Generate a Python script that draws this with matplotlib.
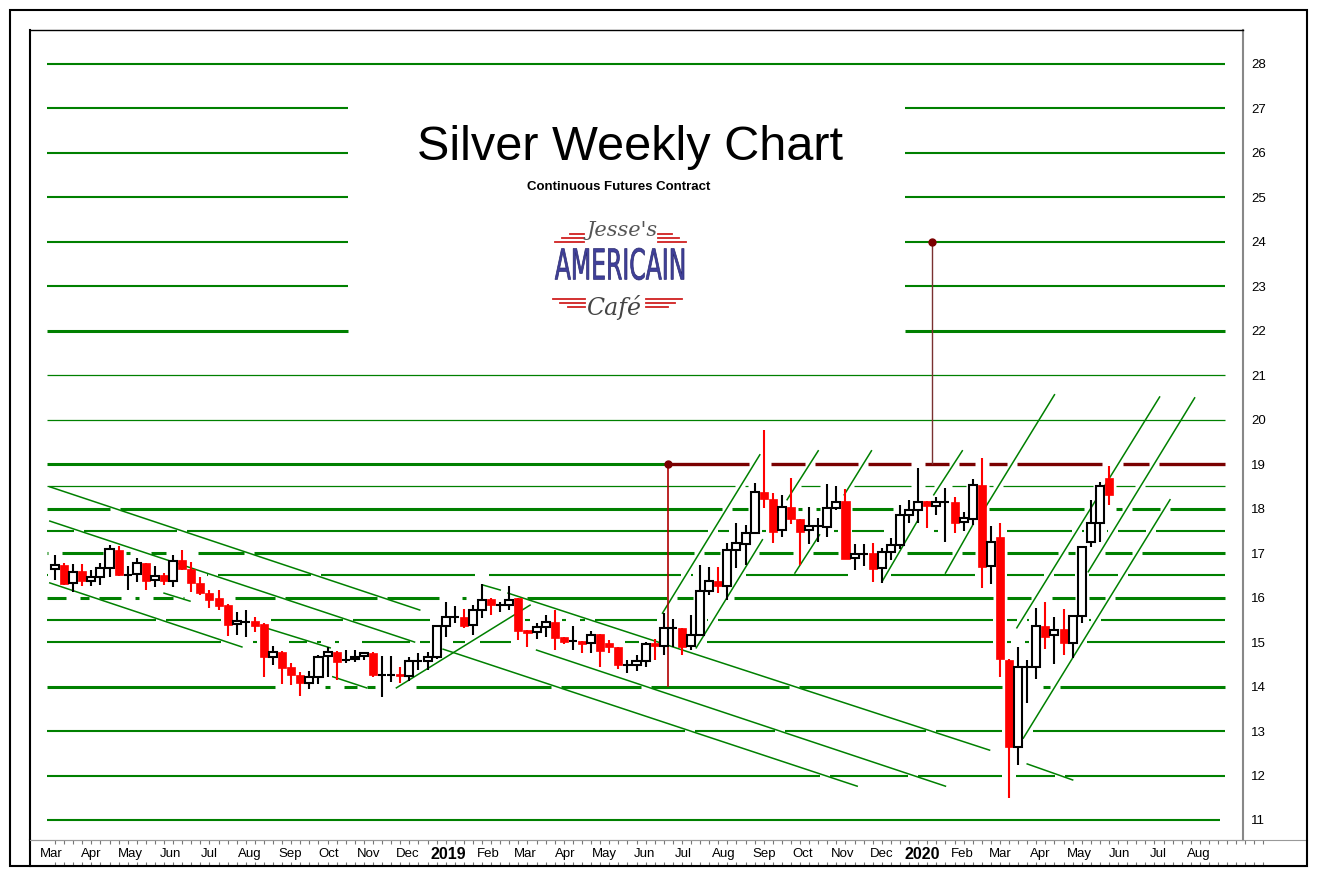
import matplotlib
matplotlib.use('Agg')
import matplotlib.pyplot as plt
import matplotlib.dates as mdates
from matplotlib.patches import Rectangle, PathPatch
from matplotlib.textpath import TextPath
from matplotlib.font_manager import FontProperties
from matplotlib.transforms import Affine2D, IdentityTransform
import pandas as pd

W, H = 1322, 881

# weekly silver candles, first bar is the week of 12 Mar 2018
first_week = '2018-03-12'
opens = [16.64, 16.73, 16.32, 16.60, 16.38, 16.47, 16.66, 17.08, 16.50, 16.53,
         16.77, 16.40, 16.50, 16.38, 16.84, 16.64, 16.32, 16.11, 15.98, 15.83,
         15.41, 15.46, 15.48, 15.40, 14.67, 14.78, 14.45, 14.27, 14.09, 14.22,
         14.68, 14.78, 14.60, 14.61, 14.69, 14.76, 14.26, 14.26, 14.28, 14.24,
         14.57, 14.58, 14.66, 15.35, 15.57, 15.57, 15.39, 15.72, 15.96, 15.83,
         15.83, 15.98, 15.27, 15.23, 15.33, 15.46, 15.12, 15.03, 15.03, 14.97,
         15.17, 14.99, 14.90, 14.49, 14.49, 14.58, 14.97, 14.91, 15.31, 15.31,
         14.91, 15.16, 16.14, 16.38, 16.26, 17.06, 17.21, 17.45, 18.38, 18.21,
         17.51, 18.03, 17.76, 17.51, 17.62, 17.58, 18.01, 18.16, 16.88, 16.98,
         17.00, 16.66, 17.03, 17.18, 17.86, 17.97, 18.16, 18.05, 18.14, 18.14,
         17.69, 17.77, 18.52, 16.70, 17.36, 14.60, 12.65, 14.45, 14.45, 15.37,
         15.16, 15.29, 14.99, 15.59, 17.26, 17.67, 18.68]
highs = [16.96, 16.78, 16.75, 16.75, 16.62, 16.77, 17.18, 17.16, 16.71, 16.90,
         16.78, 16.72, 16.56, 16.96, 17.06, 16.81, 16.47, 16.17, 16.17, 15.85,
         15.68, 15.72, 15.56, 15.42, 14.91, 14.80, 14.54, 14.33, 14.36, 14.71,
         14.90, 14.79, 14.82, 14.82, 14.78, 14.78, 14.69, 14.69, 14.44, 14.67,
         14.75, 14.78, 15.39, 15.91, 15.80, 15.74, 15.83, 16.31, 15.98, 15.90,
         16.26, 16.00, 15.27, 15.42, 15.61, 15.72, 15.12, 15.35, 15.03, 15.24,
         15.17, 15.05, 14.90, 14.60, 14.71, 15.01, 15.08, 15.65, 15.51, 15.31,
         15.61, 16.73, 16.69, 16.68, 17.22, 17.67, 17.63, 18.57, 19.77, 18.35,
         18.30, 18.68, 17.76, 18.03, 17.78, 18.56, 18.51, 18.43, 17.20, 17.20,
         17.22, 17.11, 17.33, 18.08, 18.20, 18.91, 18.16, 18.25, 18.46, 18.27,
         17.93, 18.66, 19.13, 17.60, 17.67, 14.62, 14.88, 14.60, 15.76, 15.89,
         15.57, 15.74, 15.59, 17.13, 18.20, 18.59, 18.96]
lows = [16.40, 16.28, 16.13, 16.25, 16.26, 16.28, 16.47, 16.48, 16.17, 16.34,
        16.17, 16.23, 16.28, 16.23, 16.62, 16.13, 16.05, 15.76, 15.72, 15.14,
        15.16, 15.12, 15.23, 14.22, 14.48, 14.06, 14.03, 13.79, 13.94, 14.06,
        14.22, 14.15, 14.52, 14.56, 14.60, 14.22, 13.77, 14.10, 14.07, 14.12,
        14.37, 14.37, 14.62, 15.12, 15.42, 15.31, 15.16, 15.54, 15.61, 15.68,
        15.72, 15.05, 14.88, 15.08, 15.12, 14.82, 14.95, 14.82, 14.75, 14.75,
        14.45, 14.75, 14.40, 14.30, 14.34, 14.45, 14.60, 14.71, 14.90, 14.71,
        14.82, 15.14, 16.06, 16.10, 15.95, 16.66, 16.74, 17.45, 18.01, 17.22,
        17.37, 17.66, 16.73, 17.21, 17.26, 17.36, 17.96, 16.86, 16.62, 16.70,
        16.34, 16.32, 16.85, 17.10, 17.67, 17.67, 17.56, 17.86, 17.26, 17.45,
        17.50, 17.63, 16.21, 16.31, 14.22, 11.49, 12.24, 13.62, 14.16, 14.84,
        14.51, 14.71, 14.64, 15.42, 17.13, 17.26, 18.08]
closes = [16.73, 16.31, 16.58, 16.38, 16.47, 16.66, 17.09, 16.50, 16.50, 16.77,
          16.38, 16.48, 16.38, 16.83, 16.64, 16.32, 16.11, 15.95, 15.81, 15.38,
          15.48, 15.46, 15.35, 14.66, 14.77, 14.41, 14.26, 14.07, 14.22, 14.67,
          14.77, 14.56, 14.60, 14.67, 14.75, 14.26, 14.26, 14.26, 14.24, 14.57,
          14.57, 14.66, 15.35, 15.57, 15.57, 15.35, 15.72, 15.95, 15.83, 15.83,
          15.95, 15.24, 15.20, 15.33, 15.44, 15.09, 15.01, 15.03, 14.96, 15.16,
          14.79, 14.90, 14.49, 14.49, 14.58, 14.96, 14.92, 15.31, 15.31, 14.90,
          15.16, 16.14, 16.38, 16.26, 17.06, 17.22, 17.45, 18.38, 18.21, 17.48,
          18.03, 17.76, 17.48, 17.61, 17.60, 18.01, 18.14, 16.86, 16.98, 16.98,
          16.64, 17.03, 17.18, 17.86, 17.97, 18.14, 18.05, 18.14, 18.14, 17.67,
          17.78, 18.52, 16.68, 17.26, 14.61, 12.63, 14.45, 14.45, 15.37, 15.12,
          15.27, 14.97, 15.59, 17.13, 17.67, 18.50, 18.31]

# horizontal price levels drawn on the chart
levels = [28, 27, 26, 25, 24, 23, 22, 21, 20, 19, 18.5, 18, 17.5, 17, 16.5, 16, 15.5, 15, 14, 13, 12, 11]
heavy_levels = [22, 19, 18, 17, 16, 14]
light_levels = [21, 20, 18.5]
title_gap_levels = [27, 26, 25, 24, 23, 22]
full_levels = [28, 21, 20, 11]

# hand drawn trend lines: (start date, price, end date, price)
trend_lines = [
    ('2018-03-08', 18.49, '2018-12-18', 15.72),
    ('2018-03-08', 17.72, '2018-12-14', 15.00),
    ('2018-03-08', 16.33, '2018-08-03', 14.89),
    ('2018-06-04', 16.10, '2018-06-24', 15.92),
    ('2018-08-19', 15.34, '2018-10-10', 14.87),
    ('2018-10-12', 14.22, '2018-11-07', 13.97),
    ('2018-11-30', 13.97, '2019-03-13', 15.83),
    ('2019-01-05', 14.84, '2019-11-20', 11.76),
    ('2019-02-05', 16.28, '2019-02-18', 16.17),
    ('2019-02-24', 16.10, '2020-03-01', 12.57),
    ('2019-03-18', 14.82, '2020-01-27', 11.76),
    ('2019-06-23', 15.65, '2019-09-06', 19.21),
    ('2019-07-19', 14.87, '2019-09-08', 17.30),
    ('2019-09-27', 18.20, '2019-10-21', 19.30),
    ('2019-10-03', 16.55, '2019-10-22', 17.41),
    ('2019-11-10', 18.31, '2019-12-01', 19.30),
    ('2019-12-09', 16.35, '2020-01-06', 17.75),
    ('2020-01-18', 18.31, '2020-02-09', 19.30),
    ('2020-01-27', 16.55, '2020-02-17', 17.63),
    ('2020-02-27', 18.04, '2020-04-20', 20.56),
    ('2020-03-22', 15.32, '2020-07-10', 20.51),
    ('2020-03-27', 12.84, '2020-07-18', 18.20),
    ('2020-03-30', 12.26, '2020-05-04', 11.90),
    ('2020-05-16', 16.58, '2020-08-06', 20.49),
]

resistance = 19.0
resistance_date = '2019-06-27'
support = 14.0
target = 24.0
target_date = '2020-01-17'

GREEN = '#008000'
MAROON = '#7a0000'

fig = plt.figure(figsize=(W / 100, H / 100), dpi=100)
ax = fig.add_axes([30 / W, 1 - 840 / H, 1213 / W, 810 / H])

weeks = pd.date_range(first_week, periods=len(opens), freq='7D')
xs = mdates.date2num(weeks)
x0 = xs[0] - 19.26
x1 = x0 + 934.5
ppd = 1213 / (x1 - x0)
ax.set_xlim(x0, x1)
ax.set_ylim(10.55, 28.76)

tl = [(mdates.date2num(pd.Timestamp(a)), p, mdates.date2num(pd.Timestamp(b)), q) for a, p, b, q in trend_lines]


def frac(f):
    return x0 + f * (x1 - x0)


def pieces(level, a, b):
    # break a level line where candles or trend lines pass through it
    cuts = []
    for x, lo, hi in zip(xs, lows, highs):
        if lo - 0.2 <= level <= hi + 0.2:
            cuts.append((x - 7 / ppd, x + 7 / ppd))
    for d1, p1, d2, p2 in tl:
        if min(p1, p2) <= level <= max(p1, p2):
            xc = d1 + (level - p1) / (p2 - p1) * (d2 - d1)
            cuts.append((xc - 5 / ppd, xc + 5 / ppd))
    cuts.sort()
    segs, cur = [], a
    for c0, c1 in cuts:
        if c1 <= cur:
            continue
        if c0 > cur:
            segs.append((cur, min(c0, b)))
        cur = max(cur, c1)
        if cur >= b:
            break
    if cur < b:
        segs.append((cur, b))
    return [s for s in segs if s[1] > s[0]]


rx = mdates.date2num(pd.Timestamp(resistance_date))
tx = mdates.date2num(pd.Timestamp(target_date))

for lv in levels:
    lw = 2.2 if lv in heavy_levels else (0.9 if lv in light_levels else 1.5)
    a, b = frac(0.014), frac(0.985)
    if lv == 11:
        b = frac(0.981)
    if lv in title_gap_levels:
        segs = [(a, frac(0.262)), (frac(0.7214), b)]
    elif lv in full_levels:
        segs = [(a, b)]
    elif lv == resistance:
        ax.hlines(lv, a, rx, color=GREEN, lw=lw, zorder=1)
        for s0, s1 in pieces(lv, rx, b):
            ax.hlines(lv, s0, s1, color=MAROON, lw=2.4, zorder=1)
        continue
    else:
        segs = pieces(lv, a, b)
    for s0, s1 in segs:
        ax.hlines(lv, s0, s1, color=GREEN, lw=lw, zorder=1)

for d1, p1, d2, p2 in tl:
    ax.plot([d1, d2], [p1, p2], color=GREEN, lw=1.1, zorder=2)

# breakout line and target marker
ax.vlines(rx, support, resistance, color='#b00000', lw=1.2, zorder=2)
ax.plot(rx, resistance, 'o', color=MAROON, ms=5, zorder=4)
ax.vlines(tx, resistance, target, color='#7a3030', lw=1.0, zorder=2)
ax.plot(tx, target, 'o', color=MAROON, ms=5, zorder=4)

# candles
bw = 6.2
for x, o, h, l, c in zip(xs, opens, highs, lows, closes):
    if abs(c - o) < 0.02:
        ax.vlines(x, l, h, color='black', lw=1.5, zorder=3)
        ax.hlines(o, x - bw / 2, x + bw / 2, color='black', lw=1.5, zorder=3)
    elif c < o:
        ax.vlines(x, l, h, color='#ff0000', lw=1.5, zorder=3)
        ax.bar(x, max(o - c, 0.05), bottom=c, width=bw, color='#ff0000',
               edgecolor='#ff0000', lw=0.5, zorder=3)
    else:
        ax.vlines(x, l, h, color='black', lw=1.5, zorder=3)
        ax.bar(x, max(c - o, 0.05), bottom=o, width=bw, color='white',
               edgecolor='black', lw=1.5, zorder=3)

ax.set_xticks([])
ax.yaxis.tick_right()
ax.set_yticks(range(11, 29))
ax.tick_params(axis='y', length=0, pad=6, labelsize=9.5)
for t in ax.get_yticklabels():
    t.set_family('Liberation Sans')
ax.spines['left'].set_linewidth(1.5)
ax.spines['top'].set_linewidth(1.0)
ax.spines['right'].set_color('#888888')
ax.spines['right'].set_linewidth(1.5)
ax.spines['bottom'].set_color('#999999')

# date strip under the chart
sx = fig.add_axes([30 / W, 1 - 866 / H, 1277 / W, 26 / H])
sx.set_xlim(x0, x0 + 1277 / ppd)
sx.set_ylim(0, 1)
sx.set_yticks([])
sx.set_xticks(mdates.date2num(pd.date_range(first_week, '2020-09-30', freq='7D')))
sx.tick_params(axis='x', which='both', direction='in', top=True, bottom=True,
               length=3, color='#777777', labelbottom=False)
for sp in ['top', 'bottom']:
    sx.spines[sp].set_color('#999999')
sx.spines['left'].set_linewidth(1.5)
sx.spines['right'].set_visible(False)
sx.patch.set_alpha(0)

for m in pd.date_range('2018-03-01', '2020-08-01', freq='MS'):
    xm = mdates.date2num(m) + 8
    if m.month == 1:
        sx.text(xm, 0.45, str(m.year), ha='center', va='center', fontsize=11.5,
                weight='bold', family='Liberation Sans')
    else:
        sx.text(xm, 0.45, m.strftime('%b'), ha='center', va='center', fontsize=9.5,
                family='Liberation Sans')

# titles and logo
fig.text(630 / W, 1 - 147 / H, 'Silver Weekly Chart', ha='center', va='center',
         fontsize=35, family='Liberation Sans')
fig.text(619 / W, 1 - 187 / H, 'Continuous Futures Contract', ha='center', va='center',
         fontsize=9.5, weight='bold', family='Liberation Sans')

fig.text(622 / W, 1 - 231 / H, "Jesse's", ha='center', va='center', fontsize=15,
         style='italic', family='DejaVu Serif', color='#555555')
fig.text(614 / W, 1 - 308 / H, 'Café', ha='center', va='center', fontsize=17,
         style='italic', family='DejaVu Serif', color='#444444')

tp = TextPath((0, 0), 'AMERICAIN', size=40, prop=FontProperties(family='DejaVu Sans'))
bb = tp.get_extents()
tr = (Affine2D().translate(-bb.x0 - bb.width / 2, -bb.y0 - bb.height / 2)
      .scale(129 / bb.width, 32 / bb.height).translate(619.5, H - 264))
fig.add_artist(PathPatch(tr.transform_path(tp), fc='#40409a', ec='#2a2a70', lw=0.5,
                         transform=IdentityTransform()))

for yy, l_left, l_right in [(234, 570, 672), (238, 562, 679), (242, 555, 686)]:
    fig.add_artist(plt.Line2D([l_left / W, 584 / W], [1 - yy / H] * 2, color='#d02020',
                              lw=1.3, transform=fig.transFigure))
    fig.add_artist(plt.Line2D([658 / W, l_right / W], [1 - yy / H] * 2, color='#d02020',
                              lw=1.3, transform=fig.transFigure))
for yy, l_left, l_right in [(299, 553, 682), (303, 560, 675), (307, 568, 668)]:
    fig.add_artist(plt.Line2D([l_left / W, 585 / W], [1 - yy / H] * 2, color='#d02020',
                              lw=1.3, transform=fig.transFigure))
    fig.add_artist(plt.Line2D([646 / W, l_right / W], [1 - yy / H] * 2, color='#d02020',
                              lw=1.3, transform=fig.transFigure))

fig.add_artist(Rectangle((10 / W, 1 - 866 / H), 1297 / W, 856 / H, fill=False,
                         ec='black', lw=1.5, transform=fig.transFigure))

fig.savefig('out.png', dpi=100)
